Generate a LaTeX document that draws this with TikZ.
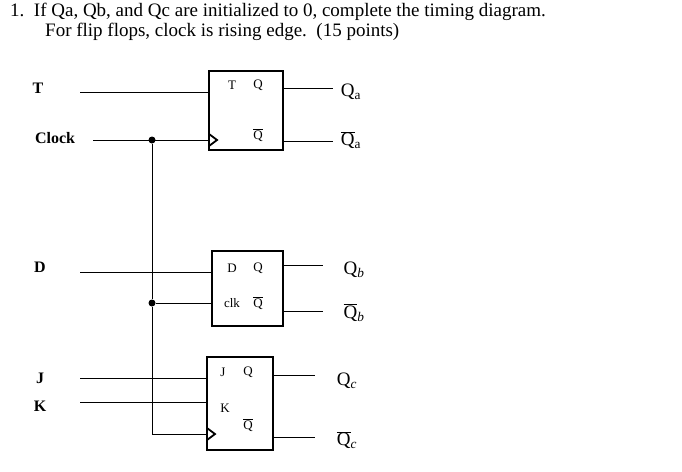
\documentclass[tikz,border=0pt]{standalone}
\usepackage{fontspec}
\setmainfont{Liberation Serif}
\begin{document}
\begin{tikzpicture}[x=1pt,y=-1pt,
  ff/.style={draw,line width=2.2pt,inner sep=0pt},
  wire/.style={line width=0.8pt},
  lbl/.style={font=\fontsize{13}{13}\selectfont,inner sep=0pt},
  inl/.style={font=\bfseries\fontsize{16}{16}\selectfont,inner sep=0pt},
  outl/.style={font=\fontsize{19}{19}\selectfont,inner sep=0pt},
  dotn/.style={circle,fill,inner sep=0pt,minimum size=7pt}]
\useasboundingbox (0,0) rectangle (682,471);
\node[anchor=west,font=\fontsize{19}{20}\selectfont,inner sep=0pt] (h1) at (10,12) {1.\ \ If Qa, Qb, and Qc are initialized to 0, complete the timing diagram.};
\node[anchor=west,font=\fontsize{19}{20}\selectfont,inner sep=0pt] (h2) at (45,32) {For flip flops, clock is rising edge.\ \ (15 points)};
% input labels
\node[inl] (lT) at (38,88) {T};
\node[inl] (lC) at (55,138) {Clock};
\node[inl] (lD) at (40,267) {D};
\node[inl] (lJ) at (40,378) {J};
\node[inl] (lK) at (40,406) {K};
% boxes
\node[ff,minimum width=74pt,minimum height=79pt] (A) at (246,110.5) {};
\node[ff,minimum width=71pt,minimum height=75pt] (B) at (247.5,288.5) {};
\node[ff,minimum width=66pt,minimum height=93pt] (C) at (240,403.5) {};
% internal labels
\node[lbl] at (232,85) {T}; \node[lbl] at (258,85) {Q}; \node[lbl] at (258,135) {$\overline{\mathrm{Q}}$};
\node[lbl] at (232,268) {D}; \node[lbl] at (258,268) {Q}; \node[lbl] at (232,303) {clk}; \node[lbl] at (258,303) {$\overline{\mathrm{Q}}$};
\node[lbl] at (223,372) {J}; \node[lbl] at (248,372) {Q}; \node[lbl] at (225,408) {K}; \node[lbl] at (248,425) {$\overline{\mathrm{Q}}$};
% clock triangles
\draw[line width=1.8pt] (209,134) -- (217,140) -- (209,146);
\draw[line width=1.8pt] (207,428) -- (215,434) -- (207,440);
% input wires
\coordinate (tT) at (80,92); \coordinate (tC) at (93,140);
\coordinate (tD) at (80,272); \coordinate (tJ) at (80,378); \coordinate (tK) at (80,402);
\draw[wire] (tT) -- (tT -| A.west);
\draw[wire] (tC) -- (tC -| A.west);
\draw[wire] (tD) -- (tD -| B.west);
\draw[wire] (tJ) -- (tJ -| C.west);
\draw[wire] (tK) -- (tK -| C.west);
\node[dotn] (d1) at (152,140) {};
\node[dotn] (d2) at (152,303) {};
\coordinate (cb) at (152,434);
\draw[wire] (d1) -- (d2) -- (cb);
\draw[wire] (d2) -- (d2 -| B.west);
\draw[wire] (cb) -- (cb -| C.west);
% outputs
\node[outl] (qa) at (351,92) {Q\textsubscript{a}};
\node[outl] (qan) at (351,140) {$\overline{\mathrm{Q}}$\textsubscript{a}};
\node[outl] (qb) at (354,270) {Q\textsubscript{\itshape b}};
\node[outl] (qbn) at (354,313) {$\overline{\mathrm{Q}}$\textsubscript{\itshape b}};
\node[outl] (qc) at (347,381) {Q\textsubscript{\itshape c}};
\node[outl] (qcn) at (347,440) {$\overline{\mathrm{Q}}$\textsubscript{\itshape c}};
\draw[wire] (A.east |- 0,88) -- (333,88);
\draw[wire] (A.east |- 0,141) -- (333,141);
\draw[wire] (B.east |- 0,265) -- (323,265);
\draw[wire] (B.east |- 0,311) -- (323,311);
\draw[wire] (C.east |- 0,375) -- (315,375);
\draw[wire] (C.east |- 0,437) -- (315,437);
\end{tikzpicture}
\end{document}
